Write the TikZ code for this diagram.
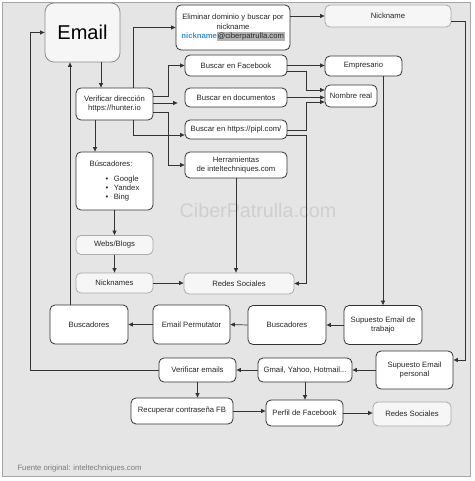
\documentclass[tikz,border=0pt]{standalone}
\usepackage{fontspec}
\setmainfont{Liberation Sans}
\usetikzlibrary{arrows.meta, positioning, calc}
\definecolor{LineDark}{HTML}{333333}
\definecolor{PanelGray}{HTML}{E5E5E5}
\definecolor{FrameGray}{HTML}{A6A6A6}
\definecolor{SoftGray}{HTML}{F6F6F6}
\definecolor{EdgeGray}{HTML}{ABABAB}
\definecolor{MarkGray}{HTML}{CFCFCF}
\definecolor{NoteGray}{HTML}{7A7A7A}
\definecolor{NickBlue}{HTML}{3A8FD3}
\definecolor{HiliteGray}{HTML}{B3B3B3}
\tikzset{
  plainbox/.style={draw=LineDark, line width=0.8pt, rounded corners=5pt, fill=white, align=center, inner sep=2pt, text=black!85, font=\fontsize{7.7}{9.3}\selectfont},
  lightbox/.style={plainbox, draw=EdgeGray, fill=SoftGray},
  emailbox/.style={draw=black!45, line width=0.8pt, rounded corners=9pt, fill=SoftGray, font=\fontsize{20}{24}\selectfont},
  arrow/.style={-{Triangle[length=4.5pt, width=4pt]}, line width=0.7pt, draw=LineDark}
}

\begin{document}
\begin{tikzpicture}[x=1pt, y=-1pt]
\useasboundingbox (0,0) rectangle (474,481);
\draw[draw=FrameGray, fill=PanelGray, line width=1pt] (2.5,2.5) rectangle (470,476);
\node[font=\fontsize{19.7}{22}\selectfont, text=MarkGray] (mark) at (258,210) {CiberPatrulla.com};
\node[anchor=west, font=\fontsize{7.7}{9}\selectfont, text=NoteGray] (src) at (14,469) {Fuente original: inteltechniques.com};

\node[emailbox, minimum width=75pt, minimum height=59pt] (email) at (82.5,32.5) {Email};
\node[plainbox, minimum width=114pt, minimum height=45pt] (elim) at (233,27.5) {Eliminar dominio y buscar por\\nickname\\{\bfseries\color{NickBlue}nickname}{\setlength{\fboxsep}{0.6pt}\colorbox{HiliteGray}{@ciberpatrulla.com}}};
\node[lightbox, minimum width=126pt, minimum height=22pt] (nick) at (388,16) {Nickname};
\node[plainbox, minimum width=77pt, minimum height=32pt] (verif) at (114.5,104) {Verificar dirección\\https://hunter.io};
\node[plainbox, minimum width=102pt, minimum height=21pt] (face) at (236,65.5) {Buscar en Facebook};
\node[plainbox, minimum width=102pt, minimum height=19pt] (docs) at (236,97.5) {Buscar en documentos};
\node[plainbox, minimum width=102pt, minimum height=19pt] (pipl) at (236,129.5) {Buscar en https://pipl.com/};
\node[plainbox, minimum width=102pt, minimum height=26pt] (herr) at (236,165) {Herramientas\\de inteltechniques.com};
\node[plainbox, minimum width=77pt, minimum height=20pt] (emp) at (363.5,66) {Empresario};
\node[plainbox, minimum width=52pt, minimum height=22pt] (nomb) at (351,96) {Nombre real};
\node[plainbox, align=left, minimum width=77pt, minimum height=58pt] (busq) at (114.5,181) {Búscadores:\\[6pt]\hspace*{16pt}\textbullet\hspace{5.5pt}Google\\\hspace*{16pt}\textbullet\hspace{5.5pt}Yandex\\\hspace*{16pt}\textbullet\hspace{5.5pt}Bing};
\node[lightbox, minimum width=77pt, minimum height=19pt] (webs) at (114.5,245) {Webs/Blogs};
\node[lightbox, minimum width=77pt, minimum height=20pt] (nicks) at (114.5,283) {Nicknames};
\node[lightbox, minimum width=110pt, minimum height=21pt] (redes1) at (239,283.5) {Redes Sociales};
\node[plainbox, minimum width=78pt, minimum height=39pt] (busL) at (89,324.5) {Buscadores};
\node[plainbox, minimum width=77pt, minimum height=39pt] (perm) at (191.5,324.5) {Email Permutator};
\node[plainbox, minimum width=78pt, minimum height=39pt] (busM) at (287,325) {Buscadores};
\node[plainbox, minimum width=78pt, minimum height=39pt] (trab) at (383,325) {Supuesto Email de\\trabajo};
\node[plainbox, minimum width=77pt, minimum height=38pt] (pers) at (414.5,370) {Supuesto Email\\personal};
\node[plainbox, minimum width=94pt, minimum height=24pt] (gmail) at (305,370) {Gmail, Yahoo, Hotmail...};
\node[plainbox, minimum width=77pt, minimum height=24pt] (vemail) at (197.5,370) {Verificar emails};
\node[plainbox, minimum width=102pt, minimum height=26pt] (recup) at (182,411) {Recuperar contraseña FB};
\node[plainbox, minimum width=77pt, minimum height=26pt] (perfil) at (304.5,413) {Perfil de Facebook};
\node[lightbox, minimum width=78pt, minimum height=24pt] (redes2) at (412,414) {Redes Sociales};

\draw[arrow] ([xshift=18.5pt]email.south) -- ([xshift=18.5pt]email.south |- verif.north);
\draw[arrow] ([xshift=-19.5pt]verif.south) -- ([xshift=-19.5pt]verif.south |- busq.north);
\draw[arrow] ([xshift=18.5pt]verif.north) |- (elim.west);
\draw[arrow] ([yshift=7.5pt]verif.east) -- ++(15,0) |- (face.west);
\draw[arrow, shorten >=7pt] ([yshift=1pt]verif.east) -- ([yshift=1pt]verif.east -| docs.west);
\draw[arrow] ([xshift=18.5pt]verif.south) |- ([yshift=-5.5pt]pipl.west);
\draw[arrow] ([yshift=-8.5pt]verif.east) -- ++(15,0) |- (herr.west);
\draw[arrow] (elim.east |- nick.west) -- (nick.west);
\draw[arrow] ([yshift=-5.5pt]nick.east) -- ++(14,0) |- ([yshift=10pt]pers.east);
\draw[arrow] (face.east) -- (face.east -| emp.west);
\draw[arrow] ([yshift=-5.5pt]face.east) -- ++(19,0) |- ([yshift=6pt]nomb.west);
\draw[arrow] (docs.east) -- (docs.east -| nomb.west);
\draw[arrow] ([yshift=-0.5pt]pipl.east) -- ++(19,0) |- ([yshift=-6pt]nomb.west);
\draw[arrow] ([yshift=-5.5pt]pipl.east) -- ++(19,0) |- (redes1.east);
\draw[arrow] (herr.south) -- (herr.south |- redes1.north);
\draw[arrow] (busq.south) -- (webs.north);
\draw[arrow] (webs.south) -- (nicks.north);
\draw[arrow] (nicks.east) -- (nicks.east -| redes1.west);
\draw[arrow] (trab.north |- emp.south) -- (trab.north);
\draw[arrow] (trab.west) -- (busM.east);
\draw[arrow] (busM.west) -- (perm.east);
\draw[arrow] (perm.west) -- (busL.east);
\draw[arrow] ([xshift=-19pt]busL.north) -- ([xshift=-19pt]busL.north |- email.south);
\draw[arrow] (vemail.west) -- ++(-128,0) |- (email.west);
\draw[arrow] (pers.west) -- (gmail.east);
\draw[arrow] (gmail.west) -- (vemail.east);
\draw[arrow] (gmail.south) -- (gmail.south |- perfil.north);
\draw[arrow] (vemail.south) -- (vemail.south |- recup.north);
\draw[arrow] (recup.east) -- (recup.east -| perfil.west);
\draw[arrow] (perfil.east) -- (perfil.east -| redes2.west);
\end{tikzpicture}
\end{document}
